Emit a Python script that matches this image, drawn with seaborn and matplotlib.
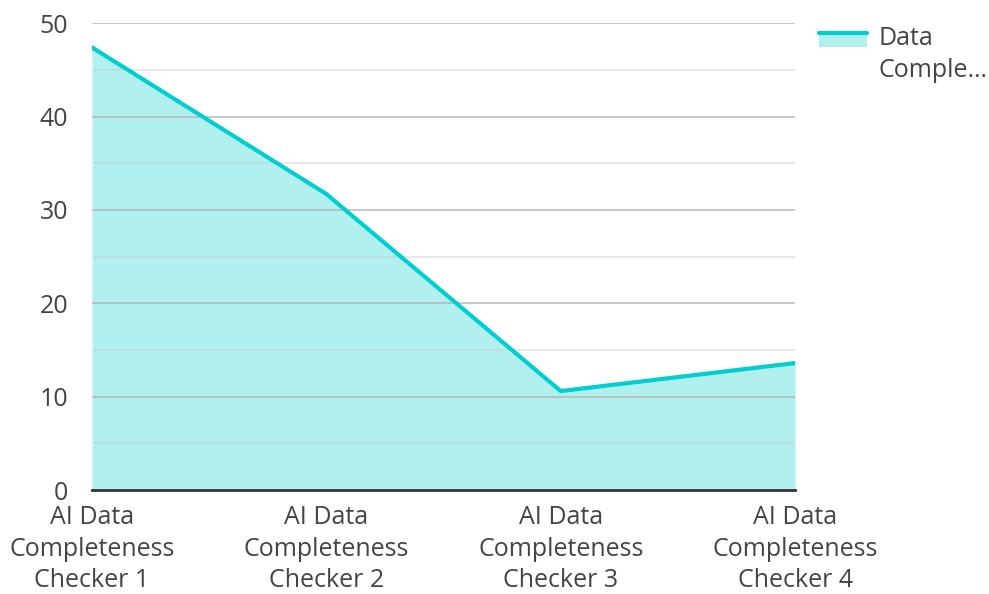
import matplotlib.pyplot as plt
import matplotlib.patches as mpatches
import matplotlib.lines as mlines
from matplotlib.legend_handler import HandlerBase
import seaborn as sns
import pandas as pd

categories = ['AI Data\nCompleteness\nChecker 1', 'AI Data\nCompleteness\nChecker 2',
              'AI Data\nCompleteness\nChecker 3', 'AI Data\nCompleteness\nChecker 4']
values = [47.4, 31.7, 10.6, 13.6]
series_label = 'Data\nComple…'

line_color = '#00CED1'
fill_color = '#B2EFEF'
text_color = '#444444'


class AreaHandler(HandlerBase):
    """Legend key: filled box with the line along its top edge"""
    def create_artists(self, legend, orig_handle, xdescent, ydescent,
                       width, height, fontsize, trans):
        shift = -4
        box = mpatches.Rectangle((-xdescent, -ydescent + shift), width, height,
                                 facecolor=fill_color, edgecolor='none', transform=trans)
        top = mlines.Line2D([-xdescent, -xdescent + width],
                            [-ydescent + height + shift - 1] * 2,
                            color=line_color, lw=3, transform=trans)
        return [box, top]


def main():
    sns.set_theme(style='white')
    plt.rcParams['font.family'] = ['Open Sans', 'DejaVu Sans']

    df = pd.DataFrame({'pos': range(len(values)), 'value': values})

    fig = plt.figure(figsize=(9.89, 5.94), dpi=100)
    ax = fig.add_axes([0.093, 0.175, 0.711, 0.786])

    ax.fill_between(df['pos'], df['value'], 0, color=fill_color, zorder=1, lw=0)
    sns.lineplot(data=df, x='pos', y='value', ax=ax, color=line_color, lw=3, zorder=3)

    # grid: major every 10, minor every 5
    for y in range(5, 51, 5):
        if y % 10 == 0:
            ax.axhline(y, color='#b0b0b0', lw=1.3, zorder=2, alpha=0.75)
        else:
            ax.axhline(y, color='#c8c8c8', lw=1.3, zorder=2, alpha=0.45)

    ax.set_xlim(0, len(values) - 1)
    ax.set_ylim(0, 50)
    ax.set_yticks(range(0, 51, 10))
    ax.set_xticks(range(len(categories)))
    ax.set_xticklabels(categories, linespacing=1.34)
    ax.tick_params(axis='both', labelsize=18, colors=text_color, length=0)
    ax.tick_params(axis='y', pad=17)
    ax.tick_params(axis='x', pad=11)
    ax.set_xlabel('')
    ax.set_ylabel('')

    for side in ['top', 'right', 'left']:
        ax.spines[side].set_visible(False)
    ax.spines['bottom'].set_color('#333333')
    ax.spines['bottom'].set_linewidth(2)
    ax.spines['bottom'].set_zorder(4)

    handle = mpatches.Patch(color=fill_color)
    leg = fig.legend([handle], [series_label], handler_map={mpatches.Patch: AreaHandler()},
                     loc='upper left', bbox_to_anchor=(0.8185, 0.973), frameon=False,
                     fontsize=18, handlelength=1.9, handleheight=0.6, handletextpad=0.45,
                     labelcolor=text_color, borderaxespad=0)
    for t in leg.get_texts():
        t.set_linespacing(1.38)
    leg._legend_handle_box.get_children()[0].get_children()[0].align = 'top'

    fig.savefig('out.png', dpi=100)
    plt.close()


if __name__ == '__main__':
    main()
